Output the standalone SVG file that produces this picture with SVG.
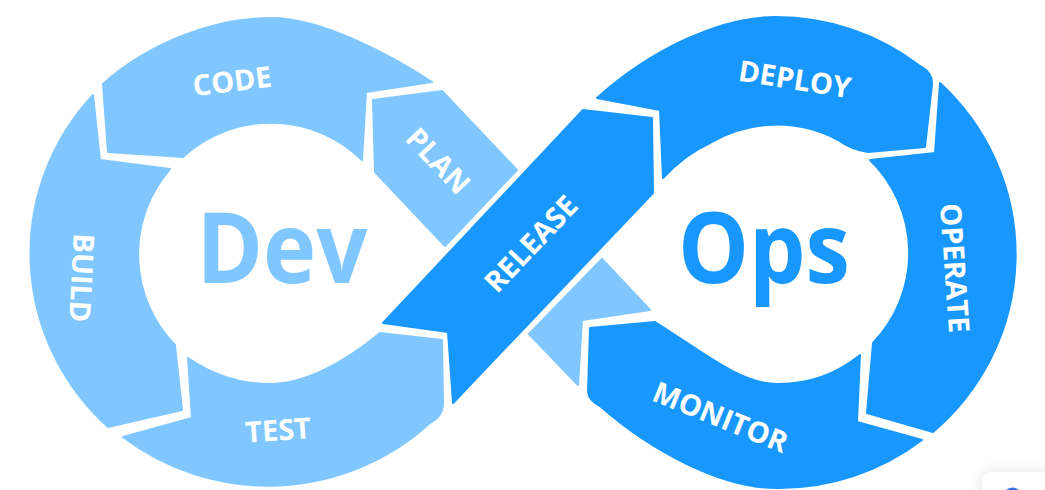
<svg xmlns="http://www.w3.org/2000/svg" width="1045" height="490" viewBox="0 0 1045 490">
<defs>
<style>
.light{fill:#80C7FF;stroke:#80C7FF;stroke-width:2;stroke-linejoin:round}
.dark{fill:#1898FF;stroke:#1898FF;stroke-width:2;stroke-linejoin:round}
.lbl{font-family:"Open Sans","Liberation Sans",sans-serif;font-weight:700;font-size:29px;fill:#fff;text-anchor:middle;dominant-baseline:central}
.big{font-family:"Open Sans","Liberation Sans",sans-serif;font-weight:700;font-size:99px;text-anchor:middle}
</style>
<filter id="sh" x="-50%" y="-50%" width="200%" height="200%"><feDropShadow dx="0" dy="0" stdDeviation="6" flood-color="#000" flood-opacity="0.12"/></filter>
</defs>
<rect width="1045" height="490" fill="#fff"/>
<g id="code">
<path class="light" d="M103,84 C150,42 215,18 272,18 C322,18 392,56 432,82 L366,92 L362,160 A130,130 0 0,0 183,157 L108,152 Z"/>
<text class="lbl" transform="translate(232,80) rotate(-7)">CODE</text>
</g>
<g id="build">
<path class="light" d="M93,95 L100,160 L170,169 A130,130 0 0,0 175,345 L182,410 L108,427 A238,235 0 0,1 93,95 Z"/>
<text class="lbl" transform="translate(83,278) rotate(93)">BUILD</text>
</g>
<g id="test">
<path class="light" d="M188,358 L192,418 L123,437 A238,235 0 0,0 430,423 Q442,417 443,405 L442,340 L380,333 C345,362 305,384 270,384 C236,384 210,373 188,358 Z"/>
<text class="lbl" transform="translate(278,429) rotate(-4)">TEST</text>
</g>
<g id="plan">
<path class="light" d="M373,100 L442,91 L517,170 L445,246 L375,172 Z"/>
<path class="light" d="M602,259 L650,310 L582,320 L578,385 L529,334 Z"/>
<text class="lbl" transform="translate(439,160) rotate(46.5)">PLAN</text>
</g>
<g id="release">
<path class="dark" d="M383,323 L583,110 L652,118 L653,193 L453,403 L448,332 Z"/>
<text class="lbl" transform="translate(530,243) rotate(-46.5)">RELEASE</text>
</g>
<g id="deploy">
<path class="dark" d="M597,98 C648,52 718,17 775,17 A236,236 0 0,1 920,66 Q933,73 932,85 L925,147 L868,152 Q852,150 838,140 A130,130 0 0,0 710,143 C690,152 675,165 663,178 L660,110 Z"/>
<text class="lbl" transform="translate(795,78) rotate(9)">DEPLOY</text>
</g>
<g id="operate">
<path class="dark" d="M940,83 L935,153 L870,160 A130,130 0 0,1 873,343 L867,413 L933,432 A242,236 0 0,0 940,83 Z"/>
<text class="lbl" transform="translate(956,268) rotate(86)">OPERATE</text>
</g>
<g id="monitor">
<path class="dark" d="M860,355 L857,422 L922,440 A236,236 0 0,1 777,488 C720,488 650,450 600,406 Q589,401 588,392 L590,328 L655,322 C700,350 740,384 777,384 A130,130 0 0,0 860,355 Z"/>
<text class="lbl" transform="translate(721,416) rotate(22)">MONITOR</text>
</g>
<g id="dev"><text class="big" x="282" y="283" fill="#80C7FF" textLength="171" lengthAdjust="spacingAndGlyphs">Dev</text></g>
<g id="ops"><text class="big" x="764" y="283" fill="#1898FF" textLength="172" lengthAdjust="spacingAndGlyphs">Ops</text></g>
<g id="connectors"></g>
<g id="corner">
<rect x="982" y="472" width="90" height="40" rx="9" fill="#fff" filter="url(#sh)"/>
<path d="M1006,490 Q1012,485 1019,490 Z" fill="#3a6ee8"/>
</g>
</svg>
